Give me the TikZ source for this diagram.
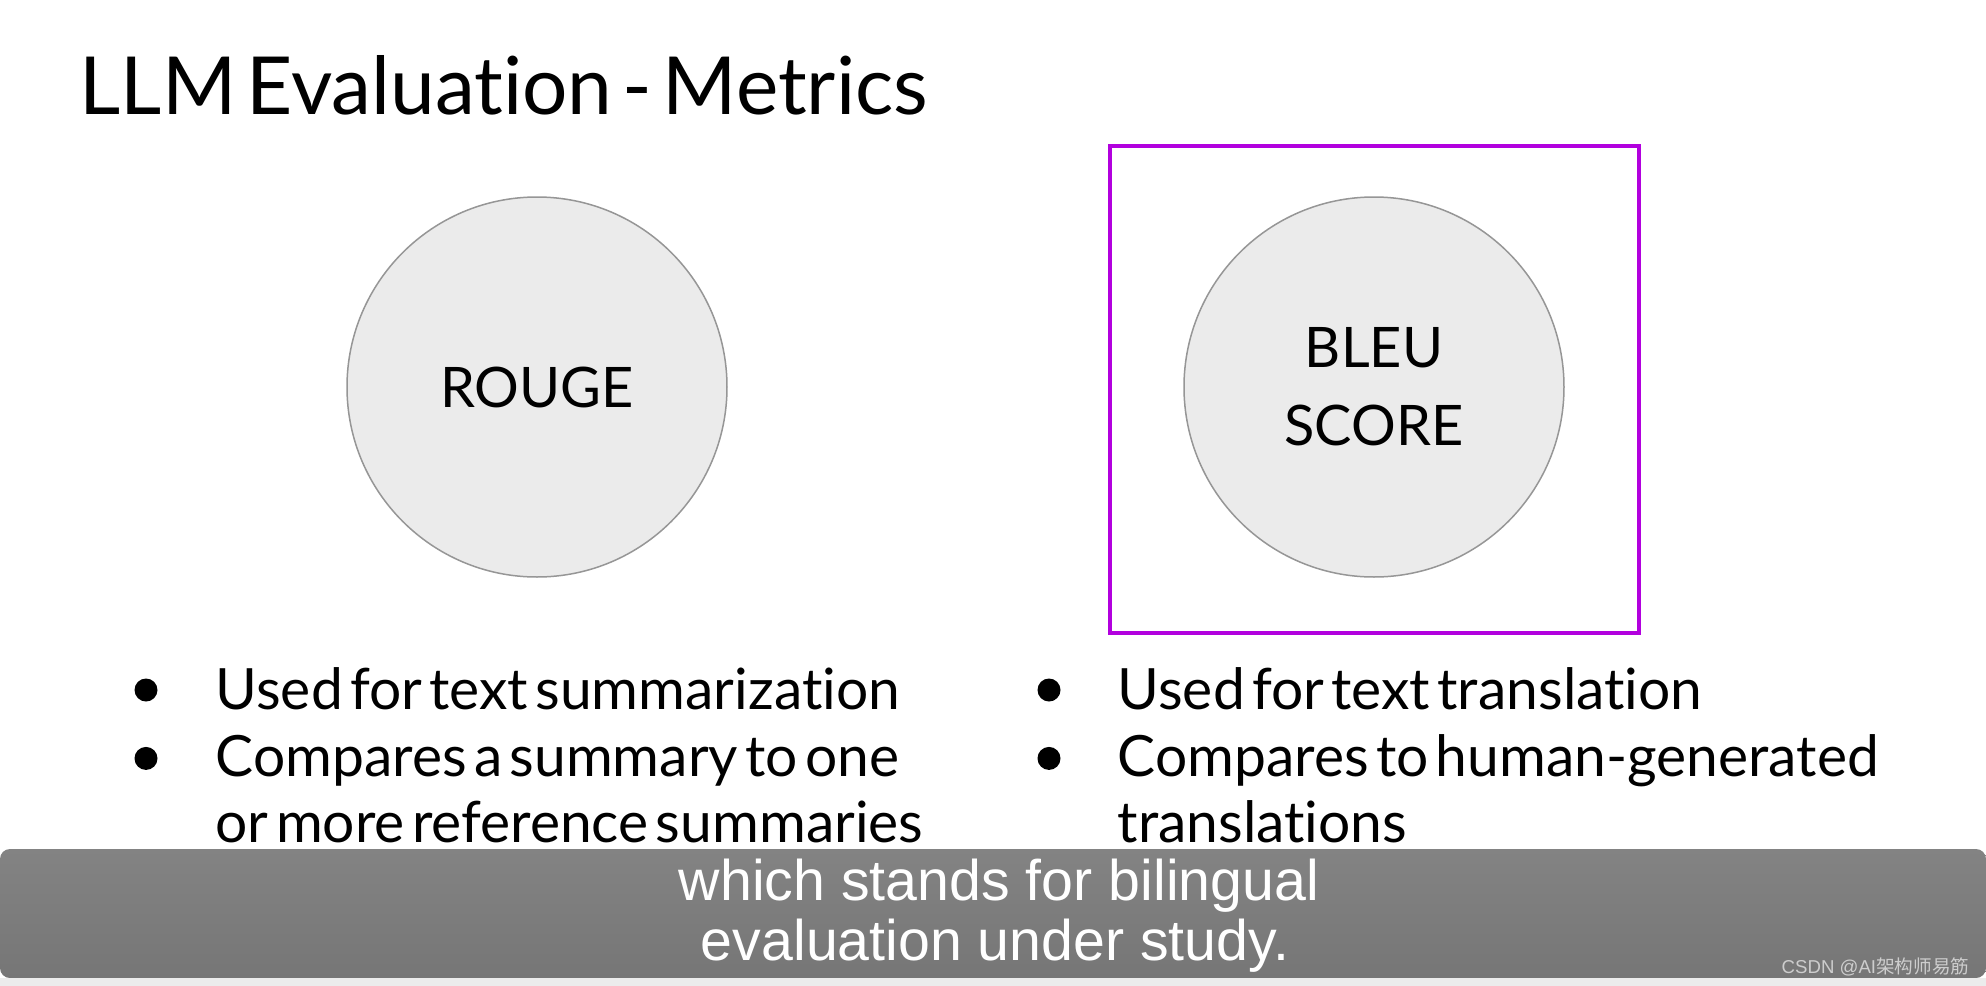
\documentclass[tikz,border=0pt]{standalone}
\usepackage{fontspec}
\setmainfont{Lato}[Ligatures=NoCommon, WordSpace=0.5]
\newfontfamily\subfont{Liberation Sans}
\newfontfamily\cjkfont{Noto Sans CJK SC}
\usetikzlibrary{positioning}

\definecolor{circfill}{RGB}{235,235,235}
\definecolor{circline}{RGB}{150,150,150}
\definecolor{boxmag}{RGB}{178,0,222}
\definecolor{bartop}{RGB}{131,131,131}
\definecolor{barbot}{RGB}{118,118,118}
\definecolor{stripgray}{RGB}{236,236,236}
\definecolor{wmgray}{RGB}{205,205,205}

\tikzset{
  metric/.style={circle, draw=circline, line width=0.15mm, fill=circfill,
    minimum size=38mm, inner sep=0pt, align=center,
    font=\fontsize{15.9}{22.3}\selectfont},
  itemtext/.style={anchor=base west, inner sep=0pt,
    font=\fontsize{16.2}{19}\selectfont},
  dotmark/.style={circle, fill=black, minimum size=2.3mm, inner sep=0pt},
  subtext/.style={text=white, inner sep=0pt, anchor=base,
    font=\subfont\fontsize{16.3}{19}\selectfont},
}

\begin{document}
\begin{tikzpicture}[x=0.1mm, y=-0.1mm]
    \fill[white] (0,0) rectangle (1986,986);
    \useasboundingbox (0,0) rectangle (1986,986);

    % title
    \node[anchor=base west, inner sep=0pt, font=\fontsize{22.8}{27}\selectfont] (title) at (79,114) {LLM Evaluation - Metrics};

    % the two metrics
    \node[metric] (rouge) at (537,387) {ROUGE};
    \node[metric] (bleu) at (1374,387) {BLEU\\SCORE};
    \node[draw=boxmag, line width=0.4mm, minimum width=52.9mm, minimum height=48.7mm, inner sep=0pt] (pick) at ([yshift=-0.25mm]bleu.center) {};

    % left list
    \node[dotmark] (ldot1) at (146,690) {};
    \node[dotmark, below=4.4mm of ldot1] (ldot2) {};
    \node[itemtext] (l1) at (215,709) {Used for text summarization};
    \node[itemtext] (l2) at (215,776) {Compares a summary to one};
    \node[itemtext] (l3) at (215,842) {or more reference summaries};

    % right list
    \node[dotmark] (rdot1) at (1049,690) {};
    \node[dotmark, below=4.4mm of rdot1] (rdot2) {};
    \node[itemtext] (r1) at (1117,709) {Used for text translation};
    \node[itemtext] (r2) at (1117,776) {Compares to human-generated};
    \node[itemtext] (r3) at (1117,842) {translations};

    % subtitle bar
    \shade[top color=bartop, bottom color=barbot, rounded corners=1mm] (0,849) rectangle (1986,978);
    \fill[stripgray] (0,978) rectangle (1986,986);
    \node[subtext] (sub1) at (999,900) {which stands for bilingual};
    \node[subtext] (sub2) at (995,960) {evaluation under study.};
    \node[anchor=base east, inner sep=0pt, text=wmgray, font=\subfont\fontsize{5.3}{6}\selectfont] (mark) at (1970,973) {CSDN @AI{\cjkfont 架构师易筋}};
\end{tikzpicture}
\end{document}
